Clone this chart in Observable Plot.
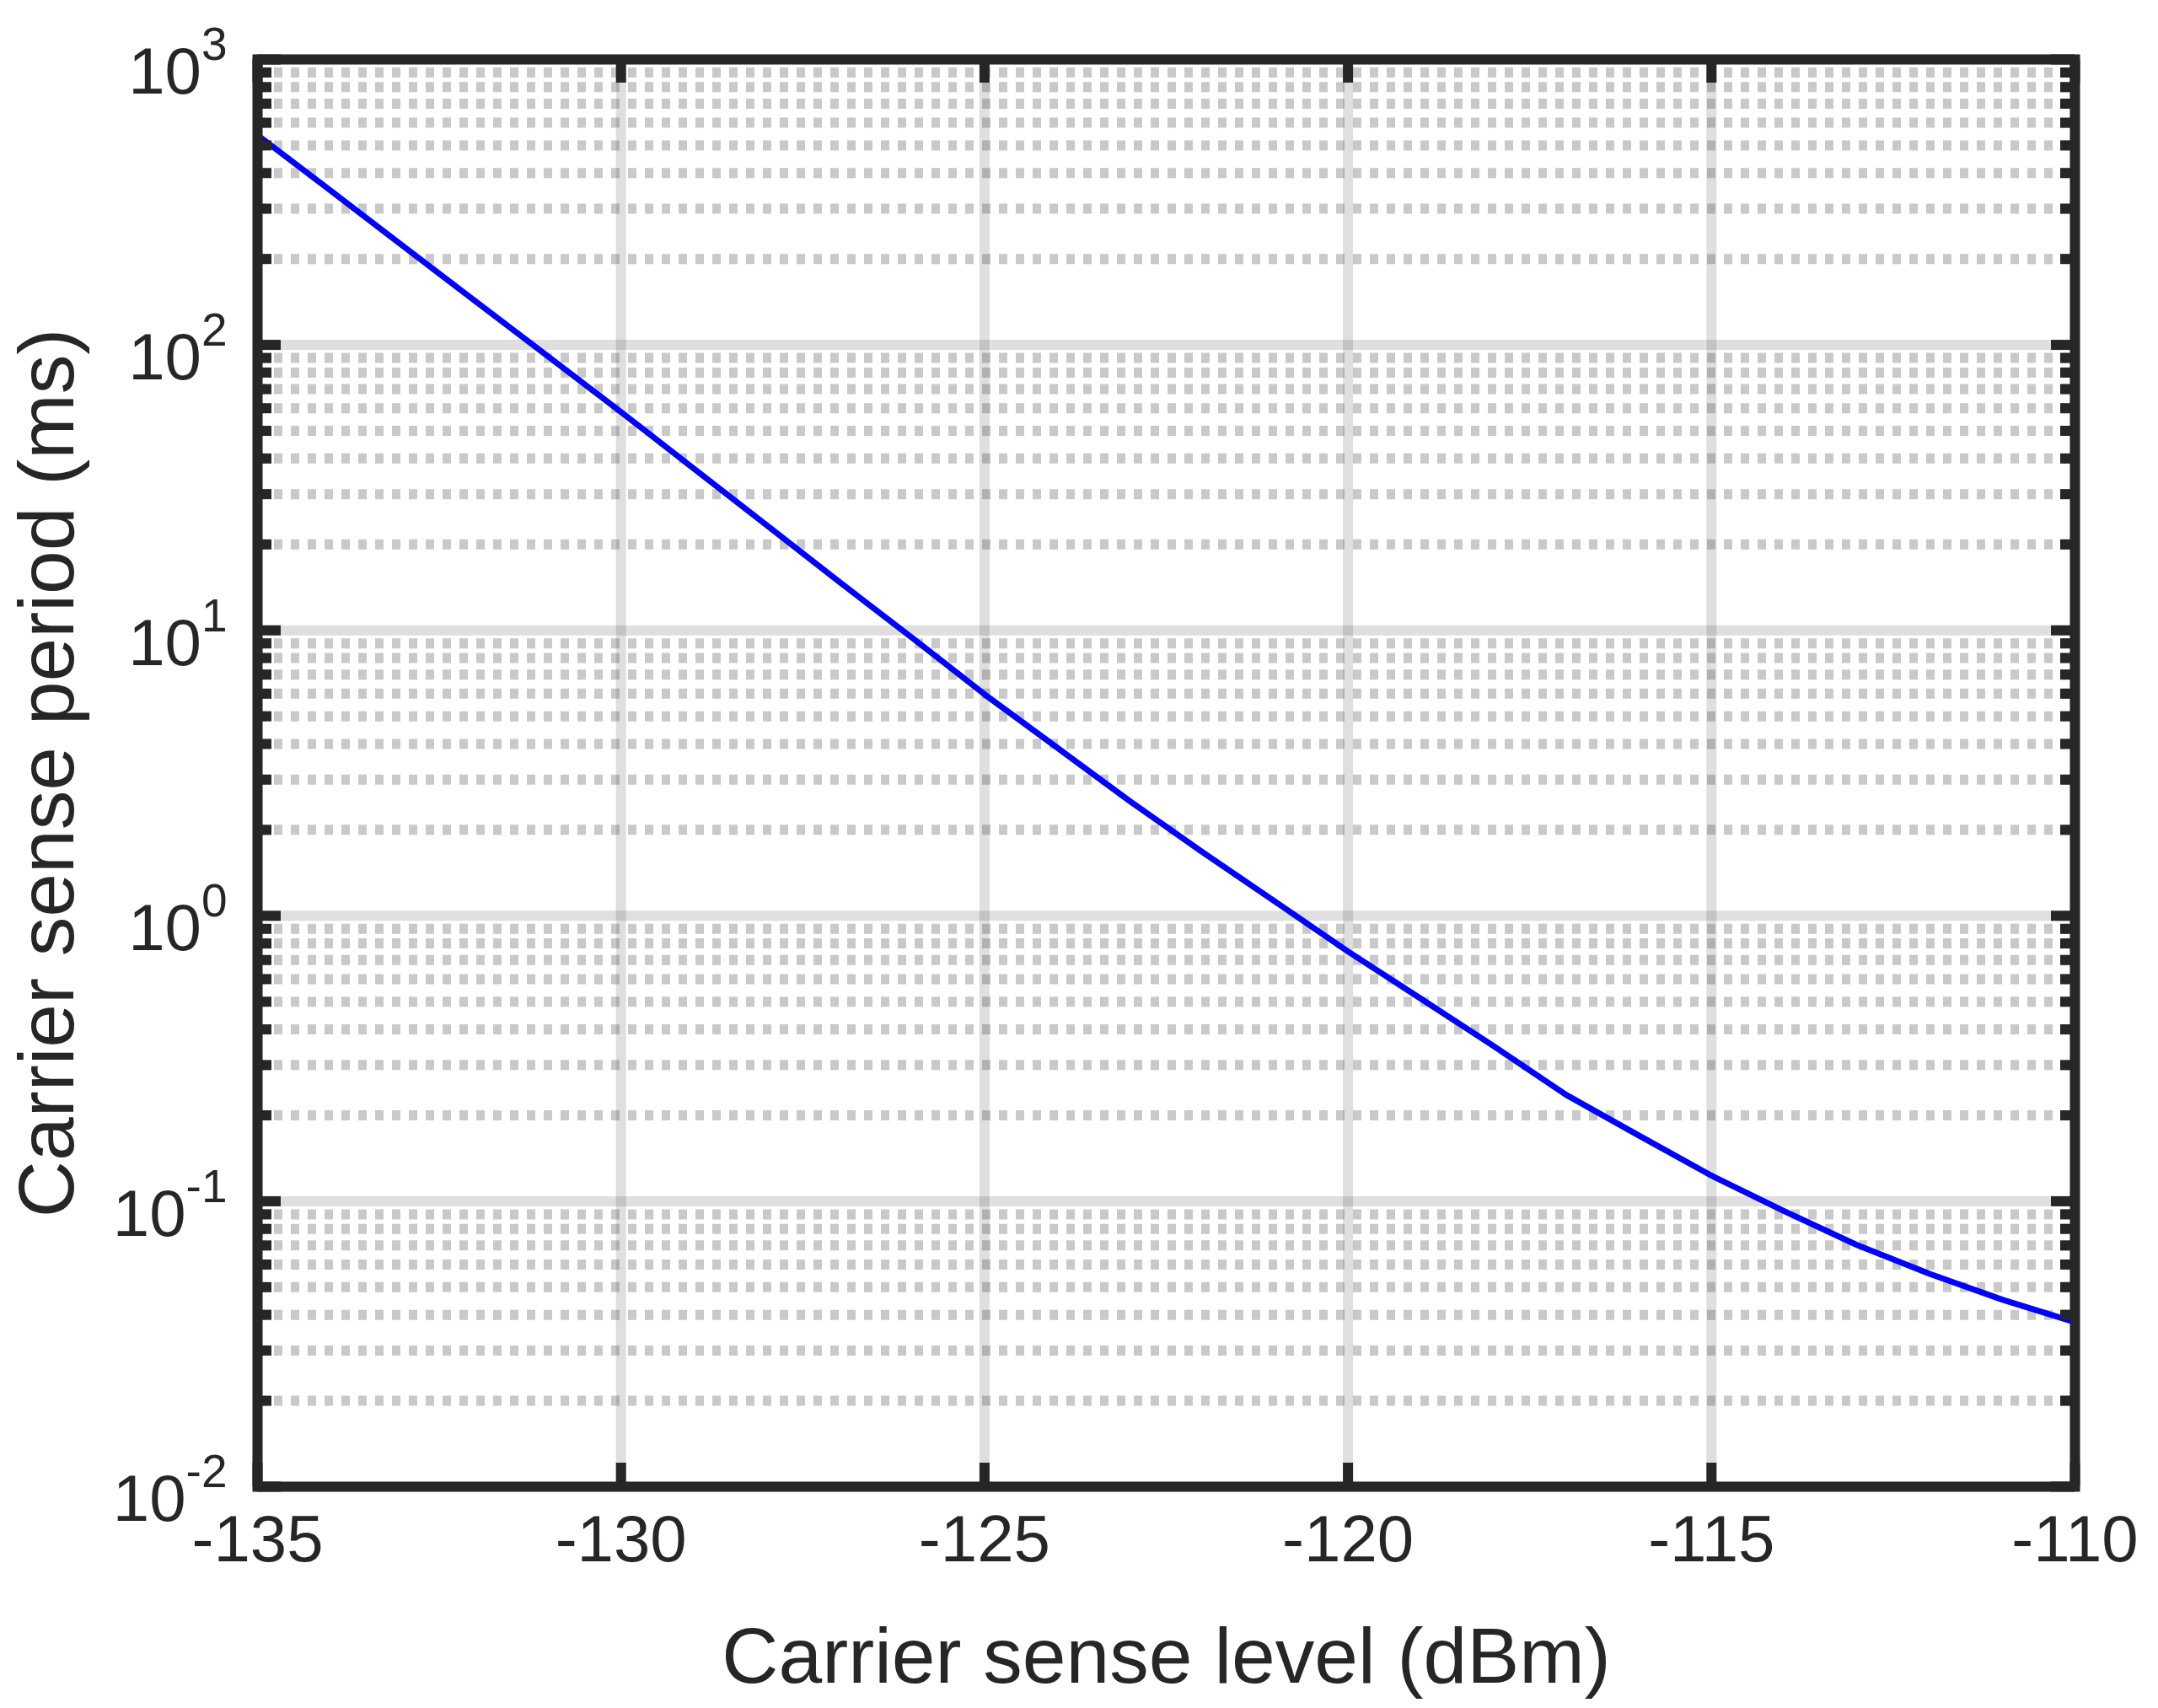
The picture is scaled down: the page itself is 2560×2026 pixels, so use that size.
<!DOCTYPE html>
<html>
<head>
<meta charset="utf-8">
<script src="https://cdn.jsdelivr.net/npm/d3@7"></script>
<script src="https://cdn.jsdelivr.net/npm/@observablehq/plot@0.6"></script>
<style>
  html, body { margin: 0; padding: 0; background: #ffffff; }
  #chart svg { display: block; }
</style>
</head>
<body>
<div id="chart"></div>
<script>
// ---- data ----
const levels = [-135, -134, -133, -132, -131, -130, -129, -128, -127, -126,
                -125, -124, -123, -122, -121, -120, -119, -118, -117, -116,
                -115, -114, -113, -112, -111, -110];
const periods = [543, 348, 222, 142, 91, 58.2, 36.9, 23.4, 14.8, 9.44,
                 5.97, 3.88, 2.52, 1.67, 1.12, 0.75, 0.513, 0.35, 0.236, 0.17,
                 0.123, 0.0923, 0.0703, 0.0557, 0.0452, 0.0377];

const xTicks = [-135, -130, -125, -120, -115, -110];
const yTicks = [0.01, 0.1, 1, 10, 100, 1000];
const yTickExponents = ["-2", "-1", "0", "1", "2", "3"];
const minorMultipliers = [2, 3, 4, 5, 6, 7, 8, 9];
const xLabel = "Carrier sense level (dBm)";
const yLabel = "Carrier sense period (ms)";

const data = levels.map((x, i) => ({level: x, period: periods[i]}));
const yMinor = yTicks.slice(0, -1).flatMap(t => minorMultipliers.map(m => t * m));

// ---- layout ----
const W = 2560, H = 2026;
const mL = 305, mR = 99, mT = 70, mB = 263;
const pw = W - mL - mR, ph = H - mT - mB;
const ink = "#262626";
const majorLen = 28, minorLen = 17, axW = 12;

const chart = Plot.plot({
  width: W,
  height: H,
  marginLeft: mL,
  marginRight: mR,
  marginTop: mT,
  marginBottom: mB,
  style: {fontFamily: "'Liberation Sans', Arial, Helvetica, sans-serif", color: ink, background: "#ffffff"},
  x: {domain: [-135, -110]},
  y: {type: "log", domain: [0.01, 1000]},
  marks: [
    // minor grid (dotted)
    Plot.ruleY(yMinor, {stroke: ink, strokeOpacity: 0.25, strokeWidth: 12, strokeDasharray: "10,10"}),
    // major grid
    Plot.ruleY(yTicks, {stroke: ink, strokeOpacity: 0.15, strokeWidth: 12}),
    Plot.ruleX(xTicks, {stroke: ink, strokeOpacity: 0.15, strokeWidth: 12}),
    // data line
    Plot.line(data, {x: "level", y: "period", stroke: "#0000ff", strokeWidth: 7}),
    // inward ticks
    Plot.tickX(xTicks, {x: d => d, insetTop: ph - majorLen, stroke: ink, strokeWidth: axW}),
    Plot.tickX(xTicks, {x: d => d, insetBottom: ph - majorLen, stroke: ink, strokeWidth: axW}),
    Plot.tickY(yTicks, {y: d => d, insetRight: pw - majorLen, stroke: ink, strokeWidth: axW}),
    Plot.tickY(yTicks, {y: d => d, insetLeft: pw - majorLen, stroke: ink, strokeWidth: axW}),
    Plot.tickY(yMinor, {y: d => d, insetRight: pw - minorLen, stroke: ink, strokeWidth: axW}),
    Plot.tickY(yMinor, {y: d => d, insetLeft: pw - minorLen, stroke: ink, strokeWidth: axW}),
    // frame
    Plot.frame({stroke: ink, strokeWidth: axW}),
    // axes (labels only)
    Plot.axisX({ticks: xTicks, tickSize: 0, tickPadding: 33, fontSize: 78, label: null, tickFormat: d => String(d)}),
    Plot.axisY({ticks: yTicks, tickSize: 0, tickPadding: 36, fontSize: 78, label: null, dy: 16,
                tickFormat: d => "10^" + yTickExponents[yTicks.indexOf(d)]}),
    // axis titles
    Plot.text([xLabel], {text: d => d, frameAnchor: "bottom", dy: 203, fontSize: 93, lineAnchor: "middle", textAnchor: "middle", fill: ink}),
    Plot.text([yLabel], {text: d => d, frameAnchor: "left", dx: -248, rotate: -90, fontSize: 93, lineAnchor: "middle", textAnchor: "middle", fill: ink})
  ]
});

// render superscripts for the log tick labels
d3.select(chart).selectAll('[aria-label="y-axis tick label"] text').each(function() {
  const t = d3.select(this);
  const parts = t.text().split("^");
  if (parts.length !== 2) return;
  t.text(null);
  t.append("tspan").text(parts[0]);
  t.append("tspan").attr("font-size", 55).attr("dy", -40).text(parts[1]);
});

document.getElementById("chart").appendChild(chart);
</script>
</body>
</html>
